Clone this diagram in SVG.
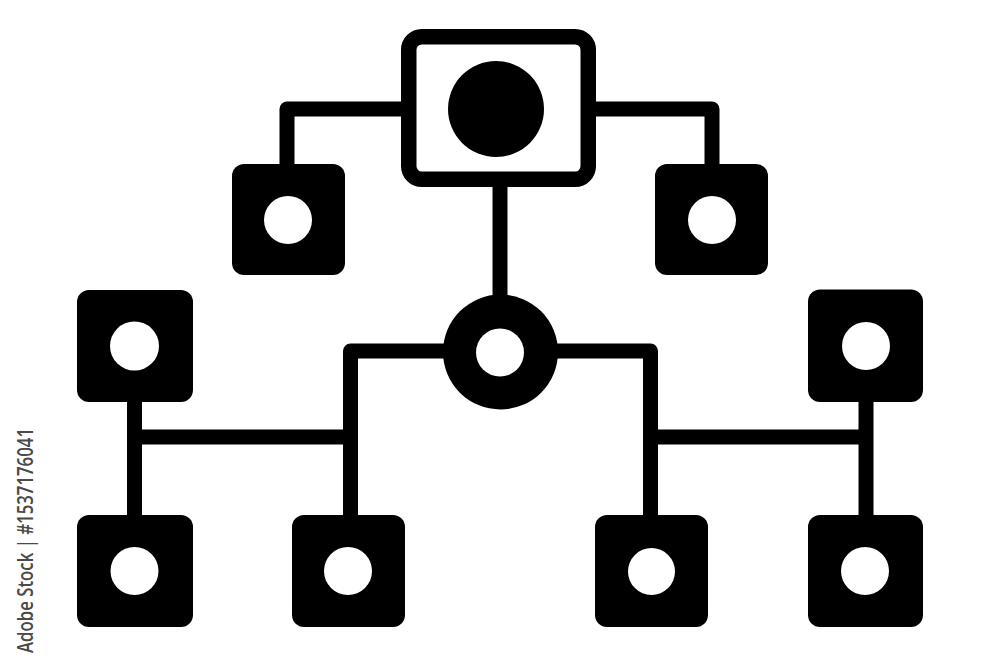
<svg xmlns="http://www.w3.org/2000/svg" width="1000" height="667" viewBox="0 0 1000 667">
  <style>
    .sq { fill: #000; }
    .hole { fill: #fff; }
    .conn { fill: none; stroke: #000; stroke-width: 15; stroke-linejoin: round; stroke-linecap: butt; }
    .wm { font-family: "Open Sans", "Liberation Sans", sans-serif; font-size: 21px; font-weight: 600; fill: #4a4a4a; }
  </style>
  <rect x="0" y="0" width="1000" height="667" fill="#fff"/>
  <g id="connectors">
    <path class="conn" d="M402 109 H287 V166"/>
    <path class="conn" d="M595 109 H712 V166"/>
    <path class="conn" d="M500 186 V296"/>
    <path class="conn" d="M445 351 H350.5 V517"/>
    <path class="conn" d="M556 351 H650.5 V517"/>
    <path class="conn" d="M134.5 400 V517"/>
    <path class="conn" d="M134.5 437 H350.5"/>
    <path class="conn" d="M866 400 V517"/>
    <path class="conn" d="M650.5 437 H866"/>
  </g>
  <g id="root">
    <rect x="408.75" y="36.75" width="179.5" height="142.5" rx="13" fill="#fff" stroke="#000" stroke-width="15.5"/>
    <circle cx="496" cy="109" r="48" fill="#000"/>
  </g>
  <g id="hub">
    <circle cx="500.5" cy="352" r="57.5" fill="#000"/>
    <circle class="hole" cx="500" cy="352.5" r="24"/>
  </g>
  <g id="node-top-left">
    <rect class="sq" x="232" y="164" width="113" height="111" rx="12"/>
    <circle class="hole" cx="288" cy="220" r="24"/>
  </g>
  <g id="node-top-right">
    <rect class="sq" x="655" y="164" width="113" height="111" rx="12"/>
    <circle class="hole" cx="712" cy="220" r="24"/>
  </g>
  <g id="node-mid-left">
    <rect class="sq" x="77" y="290" width="116" height="112" rx="12"/>
    <circle class="hole" cx="134.5" cy="346" r="24.5"/>
  </g>
  <g id="node-mid-right">
    <rect class="sq" x="808" y="289.5" width="115" height="112.5" rx="12"/>
    <circle class="hole" cx="866" cy="346" r="24"/>
  </g>
  <g id="node-bottom-1">
    <rect class="sq" x="77" y="515" width="116" height="112" rx="12"/>
    <circle class="hole" cx="134.5" cy="571" r="24"/>
  </g>
  <g id="node-bottom-2">
    <rect class="sq" x="292" y="515" width="113" height="112" rx="12"/>
    <circle class="hole" cx="348" cy="571" r="24"/>
  </g>
  <g id="node-bottom-3">
    <rect class="sq" x="595" y="515" width="113" height="112" rx="12"/>
    <circle class="hole" cx="651.5" cy="571.5" r="23.5"/>
  </g>
  <g id="node-bottom-4">
    <rect class="sq" x="808" y="515" width="115" height="112" rx="12"/>
    <circle class="hole" cx="865" cy="571" r="24"/>
  </g>
  <text class="wm" transform="translate(33,653) rotate(-90)" textLength="225" lengthAdjust="spacingAndGlyphs">Adobe Stock | #1537176041</text>
</svg>
